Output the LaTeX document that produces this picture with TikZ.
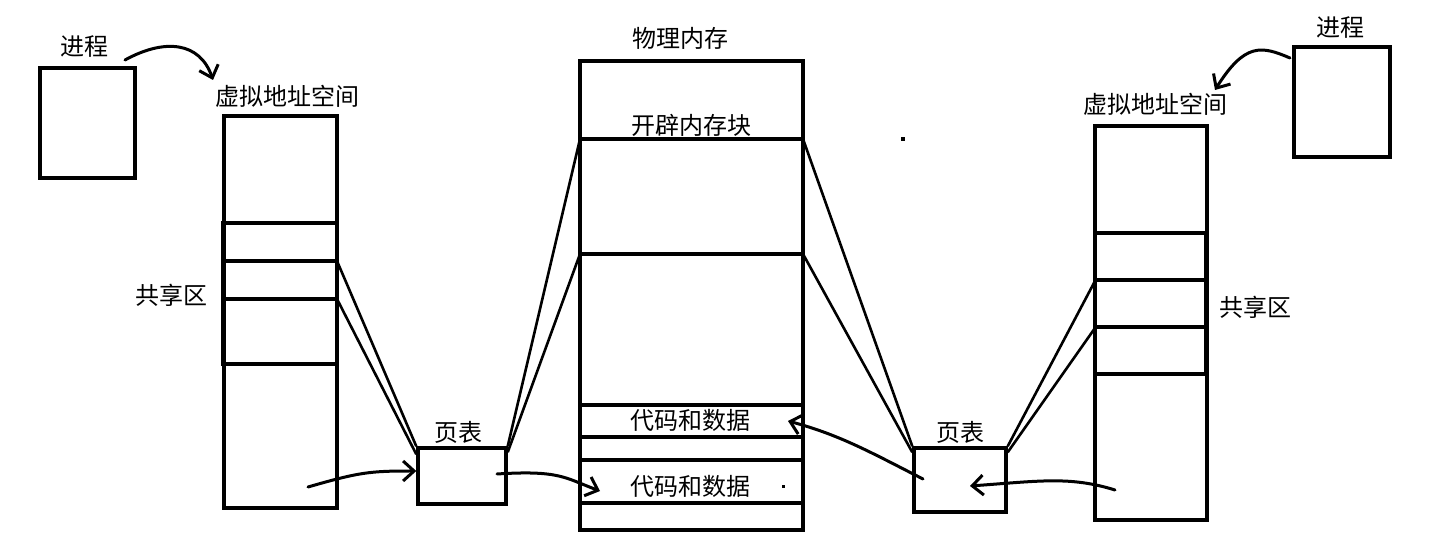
\documentclass[tikz,border=0pt]{standalone}
\usepackage{fontspec}
\newfontfamily\cjk{Noto Sans CJK SC}
\usetikzlibrary{arrows.meta}
\tikzset{
  box/.style = {draw, line width=1.7pt, inner sep=0pt},
  row/.style = {line width=1.9pt},
  link/.style = {line width=1.3pt},
  hand/.style = {line width=1.5pt, line cap=round, -{Straight Barb[length=5.5pt, width=10pt, line width=1.5pt]}},
  lbl/.style = {font=\cjk\fontsize{12}{14}\selectfont, inner sep=1pt}
}

\begin{document}
\begin{tikzpicture}[x=0.5pt, y=-0.5pt]
\useasboundingbox (0,0) rectangle (1430,544);
% boxes
\node [box, minimum width=47.5pt, minimum height=55pt] (procL) at (87.5,123) {};
\node [box, minimum width=56.5pt, minimum height=196pt] (vasL) at (280.5,312) {};
\node [box, minimum width=44pt, minimum height=28pt] (ptL) at (462,476) {};
\node [box, minimum width=111.5pt, minimum height=234.5pt] (mem) at (691.5,295.5) {};
\node [box, minimum width=46pt, minimum height=32pt] (ptR) at (960,480) {};
\node [box, minimum width=56pt, minimum height=197pt] (vasR) at (1151,323) {};
\node [box, minimum width=48pt, minimum height=55pt] (procR) at (1342,102) {};
% shared areas
\draw [row] (223,223) rectangle (337,364);
\foreach \y in {261,299} \draw [row] (223,\y) -- (337,\y);
\draw [row] (1095,233) rectangle (1206,374);
\foreach \y in {280,327} \draw [row] (1095,\y) -- (1206,\y);
% memory rows
\foreach \y in {139,254,405,437,460,503} \draw [box] (580,\y) -- (803,\y);
% labels
\node [lbl] (tProcL) at (85,47) {进程};
\node [lbl] (tVasL) at (287,96) {虚拟地址空间};
\node [lbl] (tShareL) at (171,295) {共享区};
\node [lbl] (tPtL) at (458,432) {页表};
\node [lbl] (tMem) at (680,38) {物理内存};
\node [lbl] (tBlock) at (691,125) {开辟内存块};
\node [lbl] (tCode1) at (690,420) {代码和数据};
\node [lbl] (tCode2) at (690,486) {代码和数据};
\node [lbl] (tPtR) at (960,432) {页表};
\node [lbl] (tVasR) at (1155,104) {虚拟地址空间};
\node [lbl] (tShareR) at (1255,307) {共享区};
\node [lbl] (tProcR) at (1340,28) {进程};
% mapping lines
\coordinate (sL1) at (337,261);
\coordinate (sL2) at (337,299);
\coordinate (m1L) at (580,139);
\coordinate (m2L) at (580,254);
\coordinate (m1R) at (803,139);
\coordinate (m2R) at (803,254);
\coordinate (sR1) at (1095,281);
\coordinate (sR2) at (1095,328);
\draw [link] (sL1) -- (ptL.north west);
\draw [link] (sL2) -- ([yshift=-4pt]ptL.north west);
\draw [link] (ptL.north east) -- (m1L);
\draw [link] ([yshift=-3pt]ptL.north east) -- (m2L);
\draw [link] (m1R) -- (ptR.north west);
\draw [link] (m2R) -- ([yshift=-3pt]ptR.north west);
\draw [link] (ptR.north east) -- (sR1);
\draw [link] ([yshift=-3pt]ptR.north east) -- (sR2);
% hand drawn arrows
\coordinate (aL0) at (125,60);
\coordinate (aL1) at (213,80);
\coordinate (aR0) at (1290,58);
\coordinate (aR1) at (1215,90);
\coordinate (bL0) at (308,487);
\coordinate (cL0) at (497,474);
\coordinate (cL1) at (600,491);
\coordinate (cR0) at (923,479);
\coordinate (cR1) at (788,421);
\coordinate (bR0) at (1115,490);
\coordinate (bR1) at (970,486);
\draw [hand] (aL0) .. controls (165,38) and (200,42) .. (aL1);
\draw [hand] (aR0) .. controls (1262,46) and (1245,42) .. (aR1);
\draw [hand] (bL0) .. controls (360,472) and (370,471) .. ([yshift=2.5pt]ptL.west);
\draw [hand] (cL0) .. controls (560,470) and (565,478) .. (cL1);
\draw [hand] (cR0) .. controls (870,452) and (840,435) .. (cR1);
\draw [hand] (bR0) .. controls (1070,476) and (1040,481) .. (bR1);
% stray dots
\fill (901,137) rectangle (905,141);
\fill (782,485) rectangle (785,488);
\end{tikzpicture}
\end{document}
